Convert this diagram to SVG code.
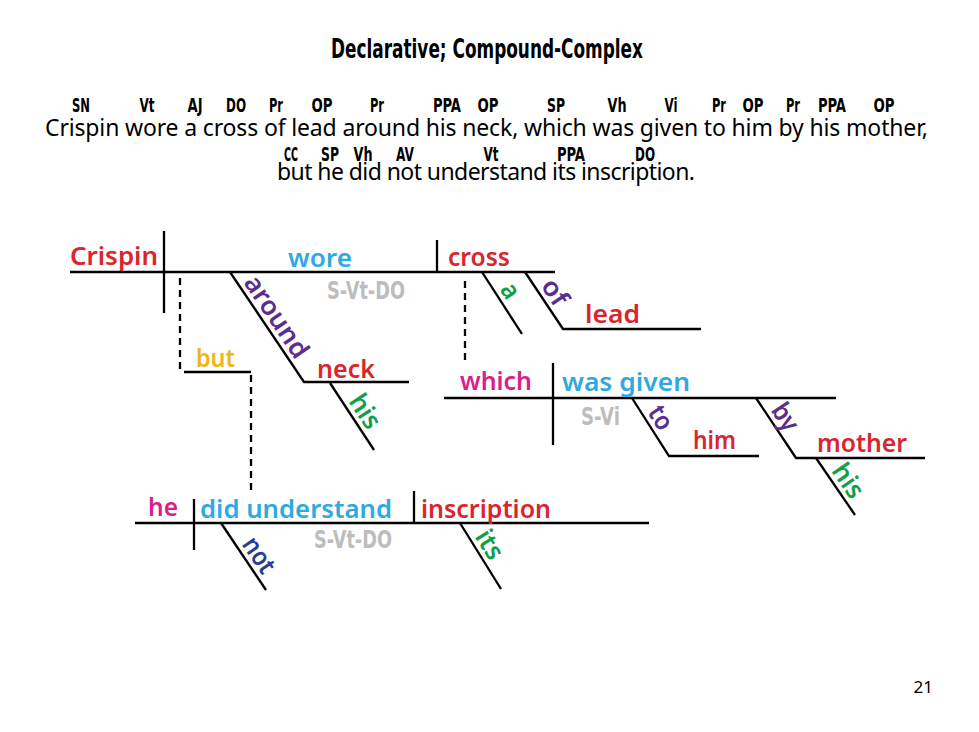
<svg xmlns="http://www.w3.org/2000/svg" width="979" height="732" viewBox="0 0 979 732">
<style>
.bg{fill:#fff}
.title{font-family:"DejaVu Sans Condensed","DejaVu Sans",sans-serif;font-weight:bold;font-size:26px;fill:#000}
.lbl{font-family:"DejaVu Sans Condensed","DejaVu Sans",sans-serif;font-weight:bold;font-size:19px;fill:#000}
.sent{font-family:"Noto Sans","Liberation Sans",sans-serif;font-size:23px;fill:#000}
.w{font-family:"Noto Sans","Liberation Sans",sans-serif;font-weight:600;font-size:26px}
.gr{font-family:"DejaVu Sans Condensed","DejaVu Sans",sans-serif;font-weight:bold;font-size:24px;fill:#bdbdbd}
.pg{font-family:"Noto Sans","Liberation Sans",sans-serif;font-size:17px;fill:#000}
.red{fill:#d9262e}.blue{fill:#2fa9e1}.pur{fill:#5b2e8e}.grn{fill:#0fa04b}.mag{fill:#d81f8a}.yel{fill:#f0b41c}.navy{fill:#26408f}
.ln{fill:none;stroke:#000;stroke-width:2.3}
.ds{fill:none;stroke:#000;stroke-width:2.3;stroke-dasharray:7 5}
</style>
<rect class="bg" x="0" y="0" width="979" height="732"/>
<g id="header">
<text class="title" x="487" y="58" text-anchor="middle" textLength="312" lengthAdjust="spacingAndGlyphs">Declarative; Compound-Complex</text>
<g id="labels1">
<text class="lbl" x="81" y="112" text-anchor="middle" textLength="18" lengthAdjust="spacingAndGlyphs">SN</text>
<text class="lbl" x="147" y="112" text-anchor="middle" textLength="15" lengthAdjust="spacingAndGlyphs">Vt</text>
<text class="lbl" x="195" y="112" text-anchor="middle" textLength="15" lengthAdjust="spacingAndGlyphs">AJ</text>
<text class="lbl" x="236" y="112" text-anchor="middle" textLength="20" lengthAdjust="spacingAndGlyphs">DO</text>
<text class="lbl" x="276" y="112" text-anchor="middle" textLength="14" lengthAdjust="spacingAndGlyphs">Pr</text>
<text class="lbl" x="322" y="112" text-anchor="middle" textLength="21" lengthAdjust="spacingAndGlyphs">OP</text>
<text class="lbl" x="377" y="112" text-anchor="middle" textLength="14" lengthAdjust="spacingAndGlyphs">Pr</text>
<text class="lbl" x="447" y="112" text-anchor="middle" textLength="28" lengthAdjust="spacingAndGlyphs">PPA</text>
<text class="lbl" x="488" y="112" text-anchor="middle" textLength="21" lengthAdjust="spacingAndGlyphs">OP</text>
<text class="lbl" x="556" y="112" text-anchor="middle" textLength="18" lengthAdjust="spacingAndGlyphs">SP</text>
<text class="lbl" x="617" y="112" text-anchor="middle" textLength="19" lengthAdjust="spacingAndGlyphs">Vh</text>
<text class="lbl" x="671" y="112" text-anchor="middle" textLength="13" lengthAdjust="spacingAndGlyphs">Vi</text>
<text class="lbl" x="719" y="112" text-anchor="middle" textLength="14" lengthAdjust="spacingAndGlyphs">Pr</text>
<text class="lbl" x="753" y="112" text-anchor="middle" textLength="21" lengthAdjust="spacingAndGlyphs">OP</text>
<text class="lbl" x="793" y="112" text-anchor="middle" textLength="14" lengthAdjust="spacingAndGlyphs">Pr</text>
<text class="lbl" x="832" y="112" text-anchor="middle" textLength="28" lengthAdjust="spacingAndGlyphs">PPA</text>
<text class="lbl" x="884" y="112" text-anchor="middle" textLength="21" lengthAdjust="spacingAndGlyphs">OP</text>
</g>
<text class="sent" x="45" y="136" textLength="883">Crispin wore a cross of lead around his neck, which was given to him by his mother,</text>
<g id="labels2">
<text class="lbl" x="291" y="161" text-anchor="middle" textLength="14" lengthAdjust="spacingAndGlyphs">CC</text>
<text class="lbl" x="330" y="161" text-anchor="middle" textLength="18" lengthAdjust="spacingAndGlyphs">SP</text>
<text class="lbl" x="363" y="161" text-anchor="middle" textLength="19" lengthAdjust="spacingAndGlyphs">Vh</text>
<text class="lbl" x="405" y="161" text-anchor="middle" textLength="18" lengthAdjust="spacingAndGlyphs">AV</text>
<text class="lbl" x="491" y="161" text-anchor="middle" textLength="15" lengthAdjust="spacingAndGlyphs">Vt</text>
<text class="lbl" x="571" y="161" text-anchor="middle" textLength="28" lengthAdjust="spacingAndGlyphs">PPA</text>
<text class="lbl" x="645" y="161" text-anchor="middle" textLength="20" lengthAdjust="spacingAndGlyphs">DO</text>
</g>
<text class="sent" x="277" y="180" textLength="418">but he did not understand its inscription.</text>
</g>
<g id="connectors">
<path class="ln" d="M70,272 H555"/>
<path class="ln" d="M164,231 V313"/>
<path class="ln" d="M437,240 V272"/>
<path class="ln" d="M230,272 L304,382 H409"/>
<path class="ln" d="M330,383 L374,450"/>
<path class="ln" d="M482,272 L522,334"/>
<path class="ln" d="M525,272 L563,329 H701"/>
<path class="ds" d="M465,281 V363"/>
<path class="ln" d="M444,398 H836"/>
<path class="ln" d="M553,363 V445"/>
<path class="ln" d="M632,398 L669,456 H759"/>
<path class="ln" d="M756,398 L796,458 H925"/>
<path class="ln" d="M816,458 L855,515"/>
<path class="ds" d="M180,278 V372"/>
<path class="ln" d="M184,372 H251"/>
<path class="ds" d="M251,375 V490"/>
<path class="ln" d="M135,523 H649"/>
<path class="ln" d="M194,499 V550"/>
<path class="ln" d="M414,491 V523"/>
<path class="ln" d="M221,523 L266,590"/>
<path class="ln" d="M460,523 L501,589"/>
</g>
<g id="n-crispin"><text class="w red" x="70" y="265" textLength="88" lengthAdjust="spacingAndGlyphs">Crispin</text></g>
<g id="n-wore"><text class="w blue" x="288" y="267" textLength="64" lengthAdjust="spacingAndGlyphs">wore</text><text class="gr" x="327" y="299" textLength="78" lengthAdjust="spacingAndGlyphs">S-Vt-DO</text></g>
<g id="n-cross"><text class="w red" x="448" y="266" textLength="62" lengthAdjust="spacingAndGlyphs">cross</text></g>
<g id="n-a"><text class="w grn" transform="translate(482,272) rotate(57.2)" x="24" y="-5" textLength="14" lengthAdjust="spacingAndGlyphs">a</text></g>
<g id="n-of"><text class="w pur" transform="translate(525,272) rotate(56.3)" x="20" y="-5" textLength="27" lengthAdjust="spacingAndGlyphs">of</text></g>
<g id="n-lead"><text class="w red" x="585" y="323" textLength="55" lengthAdjust="spacingAndGlyphs">lead</text></g>
<g id="n-around"><text class="w pur" transform="translate(230,272) rotate(56.1)" x="16" y="-5" textLength="94" lengthAdjust="spacingAndGlyphs">around</text></g>
<g id="n-neck"><text class="w red" x="317" y="378" textLength="58" lengthAdjust="spacingAndGlyphs">neck</text></g>
<g id="n-his1"><text class="w grn" transform="translate(330,383) rotate(56.7)" x="25" y="-5" textLength="36" lengthAdjust="spacingAndGlyphs">his</text></g>
<g id="n-but"><text class="w yel" x="196" y="367" textLength="39" lengthAdjust="spacingAndGlyphs">but</text></g>
<g id="n-which"><text class="w mag" x="460" y="390" textLength="72" lengthAdjust="spacingAndGlyphs">which</text></g>
<g id="n-wasgiven"><text class="w blue" x="562" y="391" textLength="128" lengthAdjust="spacingAndGlyphs">was given</text><text class="gr" x="581" y="425" textLength="39" lengthAdjust="spacingAndGlyphs">S-Vi</text></g>
<g id="n-to"><text class="w pur" transform="translate(632,398) rotate(57.5)" x="20" y="-5" textLength="24" lengthAdjust="spacingAndGlyphs">to</text></g>
<g id="n-him"><text class="w red" x="693" y="449" textLength="43" lengthAdjust="spacingAndGlyphs">him</text></g>
<g id="n-by"><text class="w pur" transform="translate(756,398) rotate(56.3)" x="18" y="-5" textLength="28" lengthAdjust="spacingAndGlyphs">by</text></g>
<g id="n-mother"><text class="w red" x="817" y="452" textLength="90" lengthAdjust="spacingAndGlyphs">mother</text></g>
<g id="n-his2"><text class="w grn" transform="translate(816,458) rotate(55.6)" x="19" y="-5" textLength="36" lengthAdjust="spacingAndGlyphs">his</text></g>
<g id="n-he"><text class="w mag" x="148" y="516" textLength="30" lengthAdjust="spacingAndGlyphs">he</text></g>
<g id="n-didunderstand"><text class="w blue" x="200" y="518" textLength="192" lengthAdjust="spacingAndGlyphs">did understand</text><text class="gr" x="314" y="548" textLength="78" lengthAdjust="spacingAndGlyphs">S-Vt-DO</text></g>
<g id="n-not"><text class="w navy" transform="translate(221,523) rotate(56.1)" x="29" y="-5" textLength="38" lengthAdjust="spacingAndGlyphs">not</text></g>
<g id="n-inscription"><text class="w red" x="421" y="518" textLength="130" lengthAdjust="spacingAndGlyphs">inscription</text></g>
<g id="n-its"><text class="w grn" transform="translate(460,523) rotate(58.2)" x="19" y="-5" textLength="30" lengthAdjust="spacingAndGlyphs">its</text></g>
<text class="pg" x="933" y="693" text-anchor="end">21</text>
</svg>
